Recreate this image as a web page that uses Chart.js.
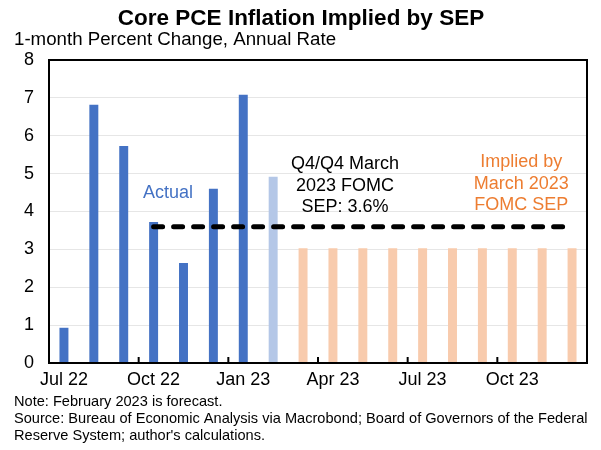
<!DOCTYPE html>
<html>
<head>
<meta charset="utf-8">
<script src="https://cdn.jsdelivr.net/npm/chart.js@4.4.1/dist/chart.umd.min.js"></script>
<style>
  html, body { margin: 0; padding: 0; background: #fff; }
  #wrap { width: 601px; height: 450px; position: relative; }
</style>
</head>
<body>
<div id="wrap"><canvas id="pceChart"></canvas></div>
<script>
// Données
const months = ['Jul 22', 'Aug 22', 'Sep 22', 'Oct 22', 'Nov 22', 'Dec 22',
                'Jan 23', 'Feb 23', 'Mar 23', 'Apr 23', 'May 23', 'Jun 23',
                'Jul 23', 'Aug 23', 'Sep 23', 'Oct 23', 'Nov 23', 'Dec 23'];
const actual   = [0.93, 6.82, 5.73, 3.72, 2.64, 4.6, 7.08, null, null, null, null, null, null, null, null, null, null, null];
const forecast = [null, null, null, null, null, null, null, 4.92, null, null, null, null, null, null, null, null, null, null];
const implied  = [null, null, null, null, null, null, null, null, 3.03, 3.03, 3.03, 3.03, 3.03, 3.03, 3.03, 3.03, 3.03, 3.03];
const sepLine  = [null, null, null, 3.6, 3.6, 3.6, 3.6, 3.6, 3.6, 3.6, 3.6, 3.6, 3.6, 3.6, 3.6, 3.6, 3.6, 3.6];
const yTicks   = [0, 1, 2, 3, 4, 5, 6, 7, 8];

const FONT = '"Liberation Sans", Arial, sans-serif';
const BLUE = '#4472C4';
const ORANGE = '#ED7D31';

// Textes hors graphique + cadre + annotations
const decorPlugin = {
    id: 'decor',
    afterDraw(chart) {
        const ctx = chart.ctx;
        const area = chart.chartArea;
        const xs = chart.scales.x;
        const ys = chart.scales.y;
        const step = (area.right - area.left) / months.length;
        const xAt = idx => area.left + (idx + 0.5) * step;

        ctx.save();
        // cadre
        ctx.strokeStyle = '#000';
        ctx.lineWidth = 2;
        ctx.strokeRect(area.left, area.top, area.right - area.left, area.bottom - area.top);

        // petites graduations vers l'intérieur, tous les 3 mois
        for (let i = 3; i < months.length; i += 3) {
            const x = (xs.getPixelForValue(i - 1) + xs.getPixelForValue(i)) / 2;
            ctx.beginPath();
            ctx.moveTo(x, area.bottom);
            ctx.lineTo(x, area.bottom - 6);
            ctx.stroke();
        }

        // titre et sous-titre
        ctx.fillStyle = '#000';
        ctx.textAlign = 'center';
        ctx.textBaseline = 'alphabetic';
        ctx.font = 'bold 22.5px ' + FONT;
        ctx.fillText('Core PCE Inflation Implied by SEP', 301, 25);
        ctx.textAlign = 'left';
        ctx.font = '18.7px ' + FONT;
        ctx.fillText('1-month Percent Change, Annual Rate', 14, 44.5);

        // notes
        ctx.font = '14.6px ' + FONT;
        ctx.fillText('Note: February 2023 is forecast.', 14, 405.5);
        ctx.fillText('Source: Bureau of Economic Analysis via Macrobond; Board of Governors of the Federal', 14, 422.5);
        ctx.fillText("Reserve System; author's calculations.", 14, 439.5);

        // annotations
        ctx.textAlign = 'center';
        ctx.font = '18px ' + FONT;
        ctx.fillStyle = BLUE;
        ctx.fillText('Actual', xAt(3.48), ys.getPixelForValue(4.36));

        ctx.fillStyle = '#000';
        ['Q4/Q4 March', '2023 FOMC', 'SEP: 3.6%'].forEach((t, k) => {
            ctx.fillText(t, xAt(9.4), ys.getPixelForValue(5.12 - k * 0.57));
        });

        ctx.fillStyle = ORANGE;
        ['Implied by', 'March 2023', 'FOMC SEP'].forEach((t, k) => {
            ctx.fillText(t, xAt(15.3), ys.getPixelForValue(5.17 - k * 0.57));
        });
        ctx.restore();
    }
};

new Chart(document.getElementById('pceChart'), {
    type: 'bar',
    data: {
        labels: months,
        datasets: [
            {
                type: 'line',
                data: sepLine,
                borderColor: '#000',
                borderWidth: 5,
                borderDash: [9, 11],
                borderCapStyle: 'round',
                pointRadius: 0,
                fill: false,
                spanGaps: false,
                order: 0
            },
            { data: actual, backgroundColor: BLUE, order: 1 },
            { data: forecast, backgroundColor: '#B4C7E7', order: 1 },
            { data: implied, backgroundColor: '#F8CBAD', order: 1 }
        ]
    },
    options: {
        responsive: true,
        maintainAspectRatio: false,
        animation: false,
        layout: { padding: { left: 0, right: 14, top: 60, bottom: 57 } },
        datasets: {
            bar: { grouped: false, barPercentage: 0.3, categoryPercentage: 1 }
        },
        plugins: {
            legend: { display: false },
            tooltip: { enabled: false },
            title: { display: false }
        },
        scales: {
            x: {
                grid: { display: false, drawTicks: false },
                border: { display: false },
                ticks: {
                    autoSkip: false,
                    maxRotation: 0,
                    padding: 6,
                    color: '#000',
                    font: { family: FONT, size: 18 },
                    callback: (v, i) => (i % 3 === 0 ? months[i] : '')
                },
                afterFit: s => { s.height = 30; }
            },
            y: {
                min: 0,
                max: 8,
                afterBuildTicks: s => { s.ticks = yTicks.map(v => ({ value: v })); },
                grid: { color: '#E6E6E6', lineWidth: 1, drawTicks: false },
                border: { display: false },
                ticks: {
                    padding: 15,
                    color: '#000',
                    font: { family: FONT, size: 18 }
                },
                afterFit: s => { s.width = 49; }
            }
        }
    },
    plugins: [decorPlugin]
});
</script>
</body>
</html>
